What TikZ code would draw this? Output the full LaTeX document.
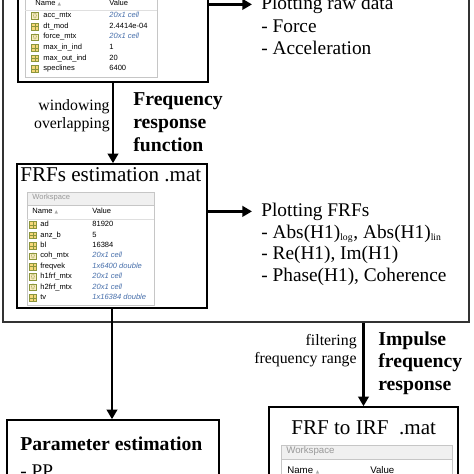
\documentclass[tikz,border=0pt]{standalone}
\usepackage{fontspec}
\setmainfont{Liberation Serif}
\newfontfamily\wsfont{Liberation Sans}
\newfontfamily\symfont{DejaVu Sans}
\usetikzlibrary{arrows.meta,positioning,fit,calc}

\definecolor{wsblue}{RGB}{70,110,170}
\definecolor{icofill}{RGB}{245,215,120}
\definecolor{icoline}{RGB}{140,150,60}

\begin{document}
\begin{tikzpicture}[
  x=0.02cm, y=-0.02cm,
  every node/.style={font=\fontsize{11}{12.5}\selectfont, inner sep=0pt},
  box/.style={draw=black, line width=0.9pt, inner sep=0pt, fit={#1}},
  flow/.style={line width=1.6pt, -{Triangle[length=5.5pt,width=6pt]}},
  listtxt/.style={anchor=base west, inner xsep=0.18cm},
  steptxt/.style={font=\bfseries\fontsize{11.2}{12.5}\selectfont, anchor=base west},
  notetxt/.style={font=\fontsize{9}{10}\selectfont, anchor=base east},
  titletxt/.style={font=\fontsize{12}{14}\selectfont, anchor=base west},
  wsframe/.style={draw=gray!45, line width=0.4pt},
  wshead/.style={fill=gray!12, draw=gray!45, line width=0.4pt},
  wstxt/.style={font=\wsfont\fontsize{4.3}{5}\selectfont, anchor=west,
    text height=3pt, text depth=1pt},
  wsval/.style={wstxt, text=wsblue, font=\wsfont\itshape\fontsize{4.3}{5}\selectfont},
  matico/.style={fill=icofill, draw=icoline, line width=0.25pt},
  cellico/.style={fill=icofill!45, draw=icoline, line width=0.25pt},
]

\useasboundingbox (0,0) rectangle (474,474);
\clip (0,0) rectangle (474,474);

\def\sortmark{{\symfont\fontsize{2.6}{3}\selectfont\color{gray!70}▲}}
\def\sub#1{\textsubscript{\fontsize{5.5}{6}\selectfont #1}}

%% Boxes
\node[box={(3,-10) (469,322)}, draw=black!80, line width=0.6pt] (outer) {};
\node[box={(18,-10) (208,82)}] (topbox) {};
\node[box={(17,164) (207,308)}] (frfbox) {};
\node[box={(7,420) (219,500)}] (parbox) {};
\node[box={(269,407) (458,500)}] (irfbox) {};

%% Workspace panel, raw data
\draw[wsframe] (25,-20) rectangle (157,77);
\draw[gray!25, line width=0.3pt] (25,10) -- (157,10);
\node[wstxt] (wsA-name) at (35,4) {Name \sortmark};
\node[wstxt] (wsA-value) at (109,4) {Value};
\foreach \n/\v/\k [count=\i] in {acc\_mtx/20x1 cell/1, dt\_mod/2.4414e-04/2,
    force\_mtx/20x1 cell/1, max\_in\_ind/1/2, max\_out\_ind/20/2, speclines/6400/2}{
  \pgfmathsetmacro{\ry}{16+(\i-1)*10.6}
  \ifnum\k=1
    \filldraw[cellico] (31.7,\ry-3.3) rectangle (38.3,\ry+3.3);
    \node[font=\wsfont\fontsize{3.3}{3.5}\selectfont, text=icoline] (wsA-i\i) at (35,\ry) {\{\}};
  \else
    \filldraw[matico] (31.7,\ry-3.3) rectangle (38.3,\ry+3.3);
    \draw[icoline, line width=0.2pt] (35,\ry-3.3) -- (35,\ry+3.3) (31.7,\ry) -- (38.3,\ry);
  \fi
  \node[wstxt] (wsA-n\i) at (43,\ry) {\n};
  \ifnum\k=2
    \node[wstxt] (wsA-v\i) at (109,\ry) {\v};
  \else
    \node[wsval] (wsA-v\i) at (109,\ry) {\v};
  \fi
}

%% Workspace panel, FRFs
\draw[wsframe] (27,192) rectangle (154,305);
\draw[wshead] (27,192) rectangle (154,205);
\draw[gray!25, line width=0.3pt] (27,219) -- (154,219);
\node[wstxt, text=gray!80] (wsB-title) at (32,198) {Workspace};
\node[wstxt] (wsB-name) at (32,212) {Name \sortmark};
\node[wstxt] (wsB-value) at (92,212) {Value};
\foreach \n/\v/\k [count=\i] in {ad/81920/2, anz\_b/5/2, bl/16384/2, coh\_mtx/20x1 cell/1,
    freqvek/1x6400 double/3, h1frf\_mtx/20x1 cell/1, h2frf\_mtx/20x1 cell/1, tv/1x16384 double/3}{
  \pgfmathsetmacro{\ry}{225+(\i-1)*10.4}
  \ifnum\k=1
    \filldraw[cellico] (29.7,\ry-3.3) rectangle (36.3,\ry+3.3);
    \node[font=\wsfont\fontsize{3.3}{3.5}\selectfont, text=icoline] (wsB-i\i) at (33,\ry) {\{\}};
  \else
    \filldraw[matico] (29.7,\ry-3.3) rectangle (36.3,\ry+3.3);
    \draw[icoline, line width=0.2pt] (33,\ry-3.3) -- (33,\ry+3.3) (29.7,\ry) -- (36.3,\ry);
  \fi
  \node[wstxt] (wsB-n\i) at (40,\ry) {\n};
  \ifnum\k=2
    \node[wstxt] (wsB-v\i) at (92,\ry) {\v};
  \else
    \node[wsval] (wsB-v\i) at (92,\ry) {\v};
  \fi
}

%% Workspace panel, IRF
\draw[wsframe] (281,445) rectangle (452,500);
\draw[wshead] (281,445) rectangle (452,459);
\node[wstxt, text=gray!80, font=\wsfont\fontsize{5.5}{6}\selectfont] (wsC-title) at (286,452) {Workspace};
\node[wstxt, font=\wsfont\fontsize{5.5}{6}\selectfont] (wsC-name) at (287,472) {Name \sortmark};
\node[wstxt, font=\wsfont\fontsize{5.5}{6}\selectfont] (wsC-value) at (370,472) {Value};

%% Titles
\node[titletxt] (frftitle) at (20,181) {FRFs estimation .mat};
\node[titletxt] (irftitle) at (291,434) {FRF to IRF~~.mat};
\node[steptxt] (partitle) at (20,450) {Parameter estimation};
\node[anchor=base west] (parpp) at (20,477) {- PP};

%% Plot lists
\node[listtxt] (rawA) at (252,9) {Plotting raw data};
\node[listtxt] (rawB) at (252,32) {- Force};
\node[listtxt] (rawC) at (252,54.5) {- Acceleration};

\node[listtxt] (plotA) at (252,216) {Plotting FRFs};
\node[listtxt] (plotB) at (252,238) {- Abs(H1)\sub{log}, Abs(H1)\sub{lin}};
\node[listtxt] (plotC) at (252,259.5) {- Re(H1), Im(H1)};
\node[listtxt] (plotD) at (252,281) {- Phase(H1), Coherence};

%% Arrows
\draw[flow] (topbox.east |- rawA.west) -- (rawA.west);
\draw[flow] (frfbox.east |- plotA.west) -- (plotA.west);
\draw[flow] (topbox.south) -- (topbox.south |- frfbox.north);
\draw[flow] (frfbox.south) -- (frfbox.south |- parbox.north);
\draw[flow] (irfbox.north |- outer.south) -- (irfbox.north);

%% Arrow labels
\node[notetxt] (winA) at (110,110) {windowing};
\node[notetxt] (winB) at (110,128.5) {overlapping};
\node[steptxt] (frfA) at (133,105) {Frequency};
\node[steptxt] (frfB) at (133,128) {response};
\node[steptxt] (frfC) at (133,151) {function};

\node[notetxt] (filA) at (357,345) {filtering};
\node[notetxt] (filB) at (357,363.5) {frequency range};
\node[steptxt] (irfA) at (378,345) {Impulse};
\node[steptxt] (irfB) at (378,367.5) {frequency};
\node[steptxt] (irfC) at (378,390) {response};

\end{tikzpicture}
\end{document}
